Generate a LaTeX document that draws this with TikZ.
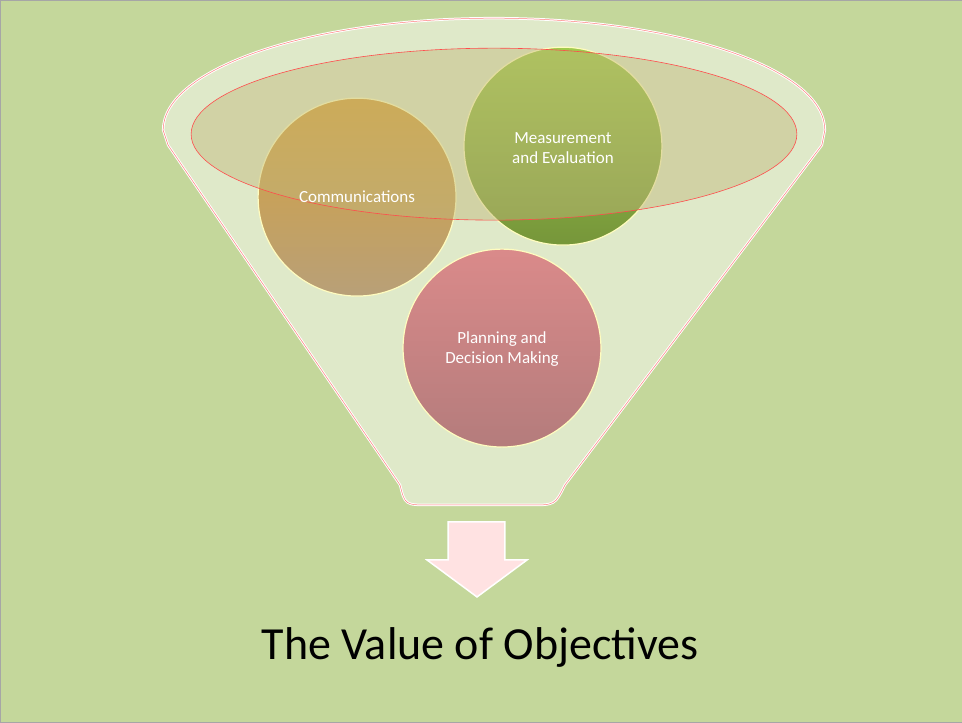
\documentclass[tikz,border=0pt]{standalone}
\usepackage{fontspec}
\setmainfont{Carlito}
\usetikzlibrary{shapes.geometric}
\begin{document}
\begin{tikzpicture}[x=1pt,y=-1pt,
  ball/.style={circle,minimum size=198pt,inner sep=0pt,draw=white!75!yellow,line width=1.2pt},
  lbl/.style={text=white,font=\fontsize{17}{20}\selectfont,align=center}]
\definecolor{bg}{HTML}{C4D79B}
\definecolor{orT}{HTML}{D6A23E}\definecolor{orB}{HTML}{B8A078}
\definecolor{grT}{HTML}{A0CA4C}\definecolor{grB}{HTML}{76963A}
\definecolor{piT}{HTML}{DA8A8A}\definecolor{piB}{HTML}{B47C7C}
\fill[bg,draw=gray!70] (0,0) rectangle (962,722);
\useasboundingbox (0,0) rectangle (962,722);
% funnel
\path[fill=white!85!bg,fill opacity=0.55,draw=white,line width=2.5pt]
  (163,130) arc[start angle=180,end angle=360,x radius=331,y radius=112]
  -- (822,145) -- (565,485) .. controls (555,505) .. (530,505) -- (430,505) .. controls (405,505) .. (400,485) -- (168,145) -- cycle;
\draw[red!50,line width=0.5pt] (163,130) arc[start angle=180,end angle=360,x radius=331,y radius=112]
  -- (822,145) -- (565,485) .. controls (555,505) .. (530,505) -- (430,505) .. controls (405,505) .. (400,485) -- (168,145) -- cycle;
% balls
\node[ball,top color=orT,bottom color=orB] (com) at (357,197) {};
\node[ball,top color=grT,bottom color=grB] (mea) at (563,146) {};
\node[ball,top color=piT,bottom color=piB] (pla) at (502,348) {};
% inner ellipse
\node[ellipse,draw=red!70,line width=0.6pt,fill=brown!35!bg,fill opacity=0.45,minimum width=606pt,minimum height=172pt,inner sep=0pt] (rim) at (494,134) {};
\node[lbl] (comt) at (357,197) {Communications};
\node[lbl] (meat) at (563,148) {Measurement\\and Evaluation};
\node[lbl] (plat) at (502,349) {Planning and\\Decision Making};
% arrow
\path[fill=pink!45!white,draw=white,line width=1.5pt] (448,522) -- (505,522) -- (505,560) -- (527,560) -- (477,597) -- (427,560) -- (448,560) -- cycle;
\node[font=\fontsize{46}{52}\selectfont] (title) at (480,648) {The Value of Objectives};
\end{tikzpicture}
\end{document}
